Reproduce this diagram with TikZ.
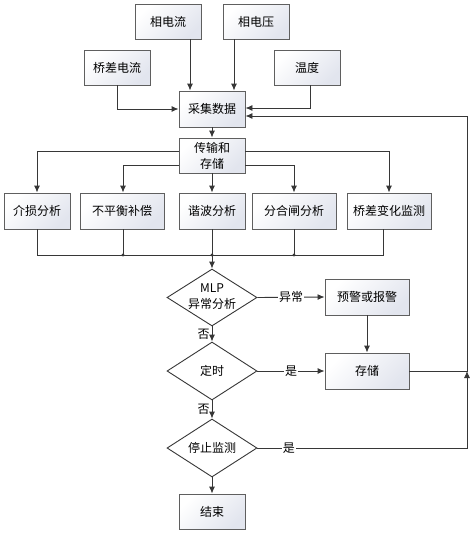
\documentclass[tikz,border=0pt]{standalone}
\usepackage{fontspec}
\setmainfont{Noto Sans CJK SC}
\usetikzlibrary{arrows.meta,shapes.geometric}
\definecolor{linec}{RGB}{55,55,55}
\definecolor{boxline}{RGB}{95,95,95}
\definecolor{boxend}{RGB}{226,229,238}
\tikzset{
  box/.style={draw=boxline, line width=0.9pt, rectangle, top color=white, bottom color=boxend, shading angle=45,
    minimum width=66pt, minimum height=35pt, inner sep=1pt, align=center,
    font=\fontsize{12}{16}\selectfont},
  wbox/.style={box, minimum width=84pt},
  dia/.style={draw=linec, line width=0.9pt, diamond, fill=white, inner sep=0pt, aspect=1.58,
    minimum width=90pt, minimum height=57pt, font=\fontsize{12}{16}\selectfont},
  conn/.style={draw=linec, line width=0.9pt},
  arr/.style={conn, -{Latex[length=7pt,width=6pt]}},
  lab/.style={fill=white, inner sep=1pt, font=\fontsize{12}{14}\selectfont},
  dotm/.style={fill=linec}
}
\begin{document}
\begin{tikzpicture}[x=1pt,y=-1pt]
\useasboundingbox (0,0) rectangle (474,533);
% nodes
\node[box] (xdl) at (168,21.5) {相电流};
\node[box] (xdy) at (256,21.5) {相电压};
\node[box] (qc)  at (117,67.5) {桥差电流};
\node[box] (wd)  at (307,67.5) {温度};
\node[box, minimum height=36pt] (cj) at (212,109) {采集数据};
\node[box] (cs) at (212,155.5) {传输和\\存储};
\node[box, minimum height=36pt] (js) at (37,211) {介损分析};
\node[wbox, minimum height=36pt] (bph) at (122,211) {不平衡补偿};
\node[box, minimum height=36pt] (xb) at (212,211) {谐波分析};
\node[wbox, minimum height=36pt] (fh) at (294,211) {分合闸分析};
\node[wbox, minimum height=36pt] (qb) at (389,211) {桥差变化监测};
\node[dia] (mlp) at (212,297.5) {\makebox[0pt]{\begin{tabular}{@{}c@{}}MLP\\异常分析\end{tabular}}};
\node[wbox, minimum height=36pt] (yj) at (367,297) {预警或报警};
\node[dia, minimum height=58pt] (ds) at (212,371) {\makebox[0pt]{定时}};
\node[wbox, minimum height=36pt] (cc) at (367,371) {存储};
\node[dia, minimum height=58pt] (tz) at (212,448) {\makebox[0pt]{停止监测}};
\node[box] (end) at (212,511.5) {结束};
\coordinate (bus) at (212,255);
\coordinate (rt) at (467,116);
% inputs
\draw[arr] ([xshift=22pt]xdl.south) -- ([xshift=22pt]xdl.south |- cj.north);
\draw[arr] ([xshift=-22pt]xdy.south) -- ([xshift=-22pt]xdy.south |- cj.north);
\draw[arr] (qc.south) |- (cj.west);
\draw[arr] ([xshift=3pt]wd.south) |- ([yshift=1pt]cj.east);
\draw[arr] (cj.south) -- (cs.north);
% distribution
\draw[arr] ([yshift=4.5pt]cs.west) -| (js.north);
\draw[arr] ([yshift=4.5pt]cs.east) -| (qb.north);
\draw[arr] ([yshift=-9.5pt]cs.west) -| ([xshift=1pt]bph.north);
\draw[arr] ([yshift=-9.5pt]cs.east) -| (fh.north);
\draw[arr] (cs.south) -- (xb.north);
% collection bus
\draw[conn] (js.south) |- (bus);
\draw[conn] ([xshift=-6pt]qb.south) |- (bus);
\draw[conn] ([xshift=1pt]bph.south) -- ([xshift=1pt]bph.south |- bus);
\draw[conn] (fh.south) -- (fh.south |- bus);
\draw[conn] (xb.south) -- (bus);
\fill[dotm] ([xshift=1pt]bph.south |- bus) circle (1.6pt);
\fill[dotm] (fh.south |- bus) circle (1.6pt);
\fill[dotm] (bus) circle (1.6pt);
\draw[arr] (bus) -- (mlp.north);
% decisions
\draw[arr] (mlp.east) -- node[lab] {异常} (yj.west);
\draw[arr] (yj.south) -- (cc.north);
\draw[arr] (mlp.south) -- node[left, font=\fontsize{12}{14}\selectfont, inner sep=2pt] {否} (ds.north);
\draw[arr] (ds.east) -- node[lab] {是} (cc.west);
\draw[arr] (ds.south) -- node[left, font=\fontsize{12}{14}\selectfont, inner sep=2pt] {否} (tz.north);
\draw[arr] (tz.south) -- (end.north);
% feedback
\draw[arr] (cc.east) -| (rt) -- ([yshift=-7pt]cj.east);
\draw[arr] (tz.east) -- node[lab, pos=0.15] {是} (tz.east -| rt) -- (cc.east -| rt);
\end{tikzpicture}
\end{document}
